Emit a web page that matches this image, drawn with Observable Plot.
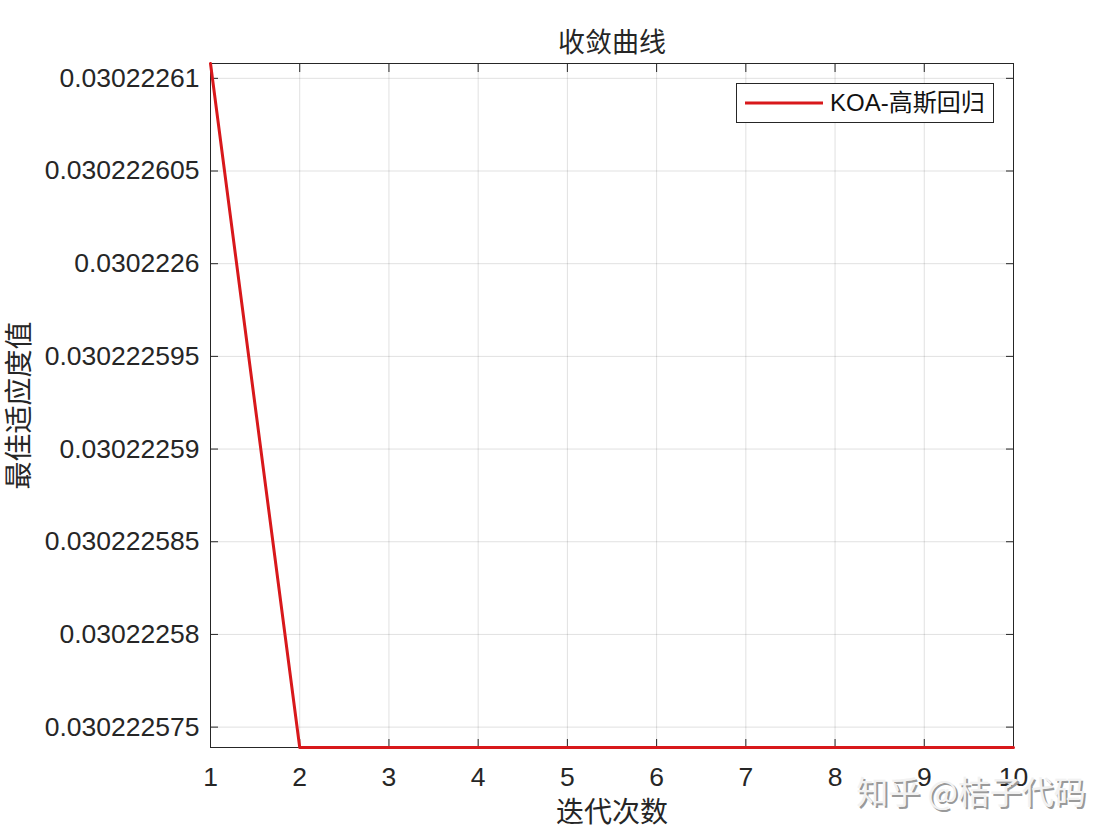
<!DOCTYPE html>
<html><head><meta charset="utf-8">
<script src="https://cdn.jsdelivr.net/npm/d3@7"></script>
<script src="https://cdn.jsdelivr.net/npm/@observablehq/plot@0.6"></script>
<style>body{margin:0;background:#fff}</style>
</head><body><div id="chart"></div>
<script>
const iterations = [1, 2, 3, 4, 5, 6, 7, 8, 9, 10];
const fitness = [0.0302226108, 0.0302225739, 0.0302225739, 0.0302225739, 0.0302225739,
                 0.0302225739, 0.0302225739, 0.0302225739, 0.0302225739, 0.0302225739];
const seriesName = "KOA-高斯回归";
const xTicks = [1, 2, 3, 4, 5, 6, 7, 8, 9, 10];
const yTicks = [0.030222575, 0.03022258, 0.030222585, 0.03022259, 0.030222595, 0.0302226, 0.030222605, 0.03022261];
const yTickLabels = ["0.030222575", "0.03022258", "0.030222585", "0.03022259", "0.030222595", "0.0302226", "0.030222605", "0.03022261"];
const titleText = "收敛曲线";
const xLabel = "迭代次数";
const yLabel = "最佳适应度值";
const watermark = "知乎 @桔子代码";

const data = iterations.map((x, i) => ({x, y: fitness[i]}));
const cjk = "'Noto Sans CJK SC', 'Noto Sans', sans-serif";
const latin = "'Liberation Sans', Arial, 'Noto Sans CJK SC', sans-serif";
const fmtY = d => yTickLabels[yTicks.indexOf(d)];
const lineColor = "#d8181b";
const ink = "#262626";

const plot = Plot.plot({
  width: 1120, height: 840,
  marginTop: 63, marginBottom: 93, marginLeft: 210, marginRight: 107,
  style: {fontFamily: latin, fontSize: "26px", background: "#fff", color: ink, overflow: "visible"},
  x: {domain: [1, 10]},
  y: {domain: [d3.min(fitness), d3.max(fitness)]},
  marks: [
    Plot.gridX(xTicks, {stroke: "#000", strokeOpacity: 0.12}),
    Plot.gridY(yTicks, {stroke: "#000", strokeOpacity: 0.12}),
    Plot.axisX(xTicks, {anchor: "bottom", tickSize: 0, tickPadding: 20, label: null, fontSize: 26.5, fill: ink}),
    Plot.axisX(xTicks, {anchor: "bottom", tickSize: 8, dy: -8, tickFormat: () => "", label: null, stroke: ink}),
    Plot.axisX(xTicks, {anchor: "top", tickSize: 8, dy: 8, tickFormat: () => "", label: null, stroke: ink}),
    Plot.axisY(yTicks, {anchor: "left", tickSize: 0, tickPadding: 11, tickFormat: fmtY, label: null, fontSize: 26.5, fill: ink}),
    Plot.axisY(yTicks, {anchor: "left", tickSize: 8, dx: 8, tickFormat: () => "", label: null, stroke: ink}),
    Plot.axisY(yTicks, {anchor: "right", tickSize: 8, dx: -8, tickFormat: () => "", label: null, stroke: ink}),
    Plot.frame({stroke: ink, strokeWidth: 1}),
    Plot.line(data, {x: "x", y: "y", stroke: lineColor, strokeWidth: 3}),
    Plot.text([titleText], {frameAnchor: "top", dy: -20, lineAnchor: "middle", fontSize: 27, fontFamily: cjk, fill: ink}),
    Plot.text([xLabel], {frameAnchor: "bottom", dy: 66, lineAnchor: "middle", fontSize: 28, fontFamily: cjk, fill: ink}),
    Plot.text([yLabel], {frameAnchor: "left", dx: -190, rotate: -90, textAnchor: "middle", lineAnchor: "middle", fontSize: 28, fontFamily: cjk, fill: ink})
  ]
});

document.getElementById("chart").appendChild(plot);

// Legend (inside the plot, top-right)
const svg = d3.select(plot);
const lg = svg.append("g");
lg.append("rect").attr("x", 736.5).attr("y", 83.5).attr("width", 257).attr("height", 39)
  .attr("fill", "#fff").attr("stroke", ink).attr("stroke-width", 1);
lg.append("line").attr("x1", 745).attr("x2", 823).attr("y1", 103).attr("y2", 103)
  .attr("stroke", lineColor).attr("stroke-width", 3);
lg.append("text").attr("x", 830).attr("y", 103).attr("dy", "0.35em").attr("text-anchor", "start")
  .attr("font-size", 24).attr("font-family", latin).attr("fill", "#111").text(seriesName);

// Watermark
const wm = svg.append("g").attr("font-size", 32).attr("font-family", cjk).attr("text-anchor", "middle");
wm.append("text").attr("x", 973).attr("y", 795).attr("dy", "0.35em").attr("fill", "#9a9a9a").text(watermark);
wm.append("text").attr("x", 971).attr("y", 793).attr("dy", "0.35em").attr("fill", "#f2f2f2").text(watermark);
</script>
</body></html>
